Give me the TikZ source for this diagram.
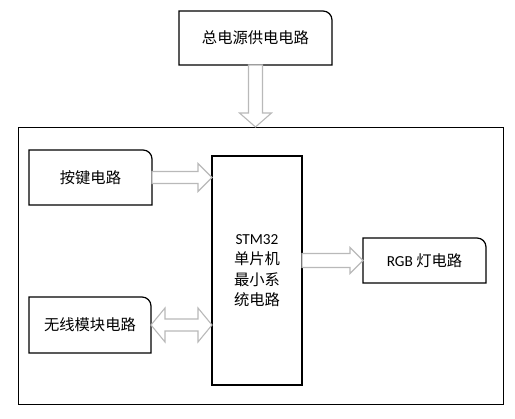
\documentclass[tikz,border=0pt]{standalone}
\usepackage{fontspec}
\newfontfamily\cjk{Noto Sans CJK SC}
\newfontfamily\lat{Carlito}
\usetikzlibrary{calc}
\definecolor{arrowgray}{RGB}{185,185,185}
\tikzset{
  boxtext/.style={inner sep=0pt, outer sep=0pt, font=\cjk\fontsize{15.3}{20.5}\selectfont, align=center},
  plainbox/.style={draw, line width=1.2pt, inner sep=0pt, outer sep=0pt},
  roundbox/.style={boxtext},
  blockarrow/.style={draw=arrowgray, line width=1.1pt, fill=white, line join=miter},
  outerframe/.style={draw, line width=1pt, inner sep=0pt, outer sep=0pt}
}
\newcommand{\rcborder}[1]{%
  \draw[line width=1.2pt] (#1.south west) -- (#1.north west) -- ($(#1.north east)+(-9,0)$)
    arc[start angle=-90, end angle=0, radius=9] -- (#1.south east) -- cycle;}
\begin{document}
\begin{tikzpicture}[x=1pt, y=-1pt]
\useasboundingbox (0,0) rectangle (515,419);
\node[outerframe, minimum width=485, minimum height=277] (outer) at (260.5,266.5) {};
\node[roundbox, minimum width=153, minimum height=54] (top) at (255.5,38) {总电源供电电路};
\node[roundbox, minimum width=123, minimum height=55] (key) at (90.5,177.5) {按键电路};
\node[roundbox, minimum width=122, minimum height=56] (wl) at (90,325) {无线模块电路};
\node[plainbox, boxtext, minimum width=90, minimum height=229] (mcu) at (257,270.5) {{\lat STM32}\\单片机\\最小系\\统电路};
\node[roundbox, minimum width=123, minimum height=45] (rgb) at (424.5,260.5) {{\lat RGB} 灯电路};
\rcborder{top}
\rcborder{key}
\rcborder{wl}
\rcborder{rgb}
% down arrow
\coordinate (dt) at ($(top.south |- outer.north)+(0,-1)$);
\draw[blockarrow] ($(top.south)+(-7,0)$) -- ($(dt)+(-7,-14)$) -- ($(dt)+(-16,-14)$) -- (dt)
  -- ($(dt)+(16,-14)$) -- ($(dt)+(7,-14)$) -- ($(top.south)+(7,0)$) -- cycle;
% key -> mcu
\coordinate (kt) at (mcu.west |- key.east);
\draw[blockarrow] ($(key.east)+(0,-6)$) -- ($(kt)+(-14,-6)$) -- ($(kt)+(-14,-14)$) -- (kt)
  -- ($(kt)+(-14,14)$) -- ($(kt)+(-14,6)$) -- ($(key.east)+(0,6)$) -- cycle;
% mcu -> rgb
\coordinate (rs) at (mcu.east |- rgb.west);
\draw[blockarrow] ($(rs)+(0,-7)$) -- ($(rgb.west)+(-13,-7)$) -- ($(rgb.west)+(-13,-13)$) -- (rgb.west)
  -- ($(rgb.west)+(-13,13)$) -- ($(rgb.west)+(-13,7)$) -- ($(rs)+(0,7)$) -- cycle;
% wireless <-> mcu
\coordinate (wt) at (mcu.west |- wl.east);
\draw[blockarrow] (wl.east) -- ($(wl.east)+(14,-17)$) -- ($(wl.east)+(14,-6)$) -- ($(wt)+(-14,-6)$)
  -- ($(wt)+(-14,-17)$) -- (wt) -- ($(wt)+(-14,17)$) -- ($(wt)+(-14,6)$) -- ($(wl.east)+(14,6)$)
  -- ($(wl.east)+(14,17)$) -- cycle;
\end{tikzpicture}
\end{document}
